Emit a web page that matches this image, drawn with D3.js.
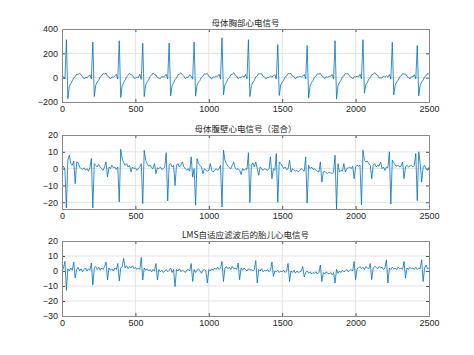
<!DOCTYPE html>
<html>
<head>
<meta charset="utf-8">
<script src="https://cdn.jsdelivr.net/npm/d3@7"></script>
<style>
  body { margin: 0; background: #fff; }
  svg { display: block; }
</style>
</head>
<body>
<div id="chart"></div>
<script>
// sample step of the read-off series (every 10th sample, 0..2500)
const step = 10

const titles = ["母体胸部心电信号", "母体腹壁心电信号（混合）", "LMS自适应滤波后的胎儿心电信号"]

const xTicks = [0, 500, 1000, 1500, 2000, 2500]
const yTicks1 = [-200, 0, 200, 400]
const yTicks2 = [-20, -10, 0, 10, 20]
const yTicks3 = [-30, -20, -10, 0, 10, 20]
const yDomains = [[-200, 400], [-24, 20], [-30, 20]]

// maternal thoracic ECG
const thoracic = [
  -5, 8, -12, 312, -173, -70, -48, -26, -2, 8, 30, 26, 38, 22, 8, -10, 2, 0, 10, 24, -10,
  293, -155, -62, -36, -22, 6, 14, 34, 30, 38, 12, 6, -10, 6, 2, 14, 28, -12,
  304, -163, -66, -40, -20, 8, 18, 36, 24, 20, -4, -6, 6, 2, 28, -14,
  283, -155, -60, -34, -18, 10, 20, 38, 26, 22, 0, -4, -8, 12, 2, 16, 26, -10,
  285, -150, -64, -44, -16, -2, 24, 28, 40, 22, 14, -8, 4, 2, 24, 10, -12,
  293, -152, -62, -38, -22, 4, 12, 32, 30, 34, 10, 4, -12, 6, 4, 12, 10, 28, -12,
  328, -141, -58, -40, -10, 0, 24, 28, 40, 20, 12, -10, 4, 2, 14, 4, 26, -10,
  312, -155, -64, -38, -24, 6, 14, 34, 30, 32, 10, 6, -10, 4, 2, 16, 2, 18, 24, -12,
  272, -147, -60, -36, -20, 6, 14, 34, 32, 34, 12, 8, -10, 6, 4, 10, 6, 12, 26, -10,
  264, -168, -66, -40, -24, 4, 12, 32, 30, 34, 14, 8, -8, 8, 4, 10, 12, 26, -12,
  304, -176, -68, -40, -22, 6, 14, 34, 32, 32, 10, 4, -10, 8, 6, 12, 6, 28, -10,
  312, -128, -56, -40, -10, 0, 24, 28, 42, 26, 20, -2, -2, -2, 14, 2, 16, 4, 26, -12,
  291, -141, -60, -36, -20, 6, 14, 34, 30, 30, 8, 4, -10, 8, 6, 24, -10,
  264, -150, -62, -36, -20, 8, 16, 34, 28
]

// maternal abdominal ECG (mixed)
const abdominal = [
  0, 1.5, -0.5, -23.4, 5, 8, 3, 2, 4.5, -9, 4, 3.5, 1, 0, -0.5, 0.5, -1, 0, -1.5, 0.5,
  6, -23.4, 3, 2, 1, 2.5, 1, 0, -1, 1, 4, -5, 1, 0, 2, 0.5, 1, -0.5, 1, -19.8,
  11.5, 6, 3.5, 2, 3, 1, 2, -2, 1, 0, 0.5, -1, 0, 1, 3, -20.8, 10.9, 5, 3, 1.5,
  2, 0.5, 0, 3, -3, 0.5, 0, 1, -0.5, 0, 1, 9.5, -19.2, 2, 3, 1, 2, -10, 2, 3,
  1, 2, 4, 1, 0, -1, 0, -1.5, 7, -5, 0, -21.8, 6, 3, 2, 1, -3, 0, -1, -1.5,
  -1, 3, -1, -2, -1, 0, -1, 0, 2, -22.8, 11, 5, 3, 1.5, 0.5, 0, 2, 4, 0, -0.5,
  0, -1, -3.5, 0, -1, 0, -0.5, 9.5, -20.2, 2, 3.5, 1, 4, 0, -4, 1, 0, -1, 0, -0.5,
  -1, 0, 7, -6, 0, -1, 9, -20, 4, 3, 1.5, 0, 1, -0.5, 0, 5, -2, 0, -1, -1.5,
  -1, -2, -1, 0, -1, -1.5, 7, -20.5, 2, 0, 1, -0.5, 0, -1, -1.5, -2, 4, -8, -2, -1.5,
  -2.5, -3, -2, -2.5, -3, -2, 8, -24, 3, -2, -1, -1.5, 3, -2, 0, 0.5, 1, 0, 1.5, -6,
  1, 2, 1.5, 2, -21.5, 11, 5, 4, 4.5, 3, 2, -6, 2, 3, 1, 2, 1.5, 4, 0, 1,
  -1, 1, 0.5, 10, -21, 5, 3.5, 2, 1.5, 2, 1, 1.5, 4, -6, 1, 2, 1, 1.5, 2, 1,
  2, 9, -19, 10, 3, -8, 1, 2, 0, -1, 1
]

// fetal ECG after LMS adaptive filtering
const fetal = [
  0, 2, 6.4, -12.9, 1.5, 0, 2, 0.5, 6, -4.7, 1, 2.5, 0, 1.5, -0.5, 1, 2, 0, 1.5, 0.5,
  5.3, -9.3, 2, 3, 1, 2.5, 0.5, 2, 1, 3, 6, -6, 2, 0.5, 1.5, 0, 2, 1, 5, -6.7,
  2, 3, 8.4, 2, 3.5, 1.5, 3, 2, 3.5, 1.5, 2.5, 1, 2, 1, 9, -6, 2, 0.5, 1.5, 0,
  1, -0.5, 1, 0, 5, -6, 1, -0.5, 0.5, -1, 0, 1, -0.5, 0.5, 2, -1, 1, -10.4, 1, 0,
  1.5, -0.5, 0.5, 0, -1, 0.5, 1, 0, 5, -7, 1, -1, 0.5, 1.5, 0, -1.5, 0.5, 1, 0, -8,
  1, 0, 1.5, 0.5, 2, 1, 2.5, 1, 2, 6.4, -7, 2, 3, 1.5, 2.5, 1, 3, 1.5, 2, 1,
  5.3, -5.8, 2, 0.5, 2, 1, 0, 1.5, 0.5, 1, 0, 1, 7, -8, 1, 0, 1.5, -0.5, 0.5, 0,
  1, -0.5, 0.5, 6, -3.6, 0, -0.5, 0.5, -1, 0, -0.5, 0.5, -1, 0, 5, -7, 0, -1, 0.5, -1.5,
  0, -1, -0.5, 0, 3, -4, -1, 0, -1.5, -0.5, -2, -1, -1.5, -0.5, -2, -1, 4, -7, -1, -2,
  -0.5, -1.5, -2, -1, -2.5, -1, -8, 1, -1.5, 0, -1, 0.5, -0.5, 0, 1, -0.5, 0.5, 1, 0, 6.4,
  -5.8, 1.5, 2, 3, 1.5, 2.5, 1, 3, 2, 1.5, 5, -5.8, 2, 3, 2.5, 1.5, 3, 2, 2.5, 1,
  2, 7.5, -8, 2, 1, 2.5, 1.5, 2, 1, 2.5, 1.5, 2, 1, 6.4, -4.7, 2, 1, 2.5, 1.5, 2,
  1, 2.5, 1, 2, 1.5, 7.5, -7, 2, 4, 1.5, 2
]

const series = [thoracic, abdominal, fetal]
const yTickSets = [yTicks1, yTicks2, yTicks3]

// layout (pixels)
const width = 474
const height = 355
const left = 62, right = 429
const tops = [29, 135, 241]
const bottoms = [102, 209, 316]

const svg = d3.select("#chart").append("svg")
  .attr("width", width)
  .attr("height", height)

const x = d3.scaleLinear().domain([0, 2500]).range([0, right - left])

series.forEach((data, i) => {
  const h = bottoms[i] - tops[i]
  const w = right - left
  const y = d3.scaleLinear().domain(yDomains[i]).range([h, 0])

  const g = svg.append("g")
    .attr("transform", `translate(${left}, ${tops[i]})`)

  // grid
  g.append("g")
    .selectAll("line.vgrid")
    .data(xTicks.slice(1, -1))
    .join("line")
    .attr("x1", d => x(d)).attr("x2", d => x(d))
    .attr("y1", 0).attr("y2", h)
    .attr("stroke", "#e3e3e3")
    .attr("stroke-width", 1)
  g.append("g")
    .selectAll("line.hgrid")
    .data(yTickSets[i].filter(d => y(d) > 0.5 && y(d) < h - 0.5))
    .join("line")
    .attr("x1", 0).attr("x2", w)
    .attr("y1", d => y(d)).attr("y2", d => y(d))
    .attr("stroke", "#e3e3e3")
    .attr("stroke-width", 1)

  // signal
  const line = d3.line()
    .x((d, k) => x(k * step))
    .y(d => y(d))

  g.append("path")
    .datum(data)
    .attr("d", line)
    .attr("fill", "none")
    .attr("stroke", "#0072bd")
    .attr("stroke-width", 0.8)
    .attr("stroke-linejoin", "round")

  // axes, ticks pointing inward
  const axisStyle = sel => {
    sel.select(".domain").remove()
    sel.selectAll(".tick line").attr("stroke", "#555")
    sel.selectAll(".tick text")
      .attr("fill", "#262626")
      .style("font-family", "'Liberation Sans', Arial, sans-serif")
      .style("font-size", "9px")
  }

  g.append("g")
    .attr("transform", `translate(0, ${h})`)
    .call(d3.axisBottom(x).tickValues(xTicks).tickFormat(d3.format("d")).tickSize(-3).tickPadding(4))
    .call(axisStyle)
  g.append("g")
    .call(d3.axisLeft(y).tickValues(yTickSets[i]).tickFormat(d3.format("d")).tickSize(-3).tickPadding(4))
    .call(axisStyle)
  g.append("g")
    .call(d3.axisTop(x).tickValues(xTicks).tickSize(-3).tickFormat(""))
    .call(axisStyle)
  g.append("g")
    .attr("transform", `translate(${w}, 0)`)
    .call(d3.axisRight(y).tickValues(yTickSets[i]).tickSize(-3).tickFormat(""))
    .call(axisStyle)

  // box
  g.append("rect")
    .attr("width", w)
    .attr("height", h)
    .attr("fill", "none")
    .attr("stroke", "#8a8a8a")
    .attr("stroke-width", 1)
    .attr("shape-rendering", "crispEdges")

  // title
  g.append("text")
    .attr("x", w / 2)
    .attr("y", -3)
    .attr("text-anchor", "middle")
    .attr("fill", "#262626")
    .style("font-family", "'Noto Sans CJK SC', sans-serif")
    .style("font-size", "8.5px")
    .text(titles[i])
})
</script>
</body>
</html>
